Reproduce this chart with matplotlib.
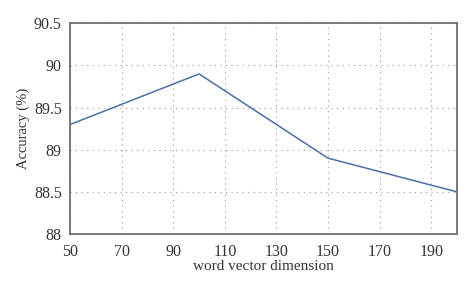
import matplotlib
matplotlib.use("Agg")
import matplotlib.pyplot as plt

# ── Data ──────────────────────────────────────────────────────────────────────
dims = [50, 100, 150, 200]
accuracy = [89.3, 89.9, 88.9, 88.5]
x_ticks = [50, 70, 90, 110, 130, 150, 170, 190]
y_ticks = [88, 88.5, 89, 89.5, 90, 90.5]
y_labels = ["88", "88.5", "89", "89.5", "90", "90.5"]

# ── Style ─────────────────────────────────────────────────────────────────────
plt.rcParams.update({
    "font.family": ["Liberation Serif", "DejaVu Serif"],
    "font.size": 11,
})

fig = plt.figure(figsize=(4.74, 2.85), dpi=100)
ax = fig.add_axes([0.148, 0.179, 0.816, 0.739])

ax.plot(dims, accuracy, color="#4c6ea8", linewidth=1.1)

ax.set_xlim(50, 200)
ax.set_ylim(88, 90.5)
ax.set_xticks(x_ticks)
ax.set_yticks(y_ticks)
ax.set_yticklabels(y_labels)
ax.tick_params(axis="x", length=0, pad=7, colors="#333333", labelsize=11.5)
ax.tick_params(axis="y", length=0, pad=6, colors="#333333", labelsize=11.5)

ax.grid(True, linestyle=(0, (1, 4)), color="#999999", linewidth=0.8)
for s in ax.spines.values():
    s.set_color("#707070")
    s.set_linewidth(1.3)

ax.set_xlabel("word vector dimension", fontsize=11, color="#333333", labelpad=0)
ax.set_ylabel("Accuracy (%)", fontsize=10.5, color="#333333", labelpad=3)

plt.savefig("out.png", dpi=100)
